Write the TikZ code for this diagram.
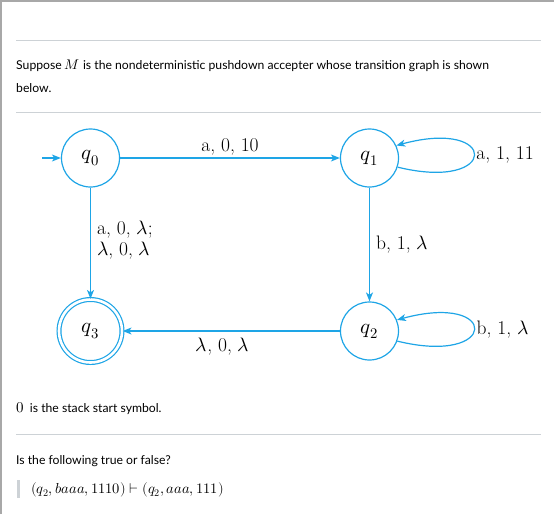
\documentclass[tikz,border=0pt]{standalone}
\usepackage{fontspec}
\usepackage{unicode-math}
\usepackage{xcolor}
\usepackage{tikz}
\usetikzlibrary{arrows.meta, positioning}

\setmathfont{Latin Modern Math}
\newfontfamily\latofont{Lato}
\definecolor{stateblue}{RGB}{30,165,230}
\definecolor{rulegray}{RGB}{205,210,214}
\definecolor{framegray}{RGB}{168,168,168}

\begin{document}
\begin{tikzpicture}[
  x=1pt, y=-1pt,
  state/.style = {draw=stateblue, circle, line width=1.2pt, minimum size=58pt,
                  inner sep=0pt, font=\fontsize{21}{24}\selectfont},
  accept/.style = {state, double=white, double distance=2.6pt, minimum size=63pt},
  arr/.style = {-{Stealth[length=9pt, width=7pt, inset=2.5pt]}, draw=stateblue, line width=1.2pt},
  lbl/.style = {font=\fontsize{19.5}{21}\selectfont, text=black, inner sep=2pt},
  txt/.style = {font=\latofont\fontsize{12.2}{23}\selectfont, inner sep=0pt, anchor=base west},
  hrule/.style = {rulegray, line width=1pt}
]
\useasboundingbox (0,0) rectangle (554,514);
% frame of the page
\draw[framegray, line width=2pt] (1,514) -- (1,1) -- (554,1);
\draw[hrule] (16,40) -- (541,40);
\draw[hrule] (16,112) -- (541,112);
\draw[hrule] (16,434) -- (541,434);

\node[txt] (intro) at (16,69) {Suppose {\fontsize{14}{16}\selectfont$M$} is the nondeterministic pushdown accepter whose transition graph is shown};
\node[txt] (intro2) at (16,92) {below.};

% the automaton
\node[state] (q0) at (90.5,158) {$q_0$};
\node[state] (q1) at (369.5,158) {$q_1$};
\node[state] (q2) at (369.5,331) {$q_2$};
\node[accept] (q3) at (90.5,331) {$q_3$};
\coordinate (start) at (42,158);

\draw[arr] (start) -- (q0);
\draw[arr] (q0) -- node[lbl, above] {a, 0, 10} (q1);
\draw[arr] (q0) -- node[lbl, right=4pt, align=left, yshift=3pt] {a, 0, $\lambda$;\\$\lambda$, 0, $\lambda$} (q3);
\draw[arr] (q1) -- node[lbl, right=4pt] {b, 1, $\lambda$} (q2);
\draw[arr] (q2) -- node[lbl, below=4pt, pos=0.54] {$\lambda$, 0, $\lambda$} (q3);
\draw[arr] (q1.-18) .. controls +(102,25) and +(103,-28) .. node[lbl, right] {a, 1, 11} (q1.25);
\draw[arr] (q2.-20) .. controls +(102,25) and +(103,-28) .. node[lbl, right] {b, 1, $\lambda$} (q2.22);

\node[txt] (startsym) at (16,412) {{\fontsize{15}{16}\selectfont$0$}\ \ is the stack start symbol.};
\node[txt] (question) at (16,464) {Is the following true or false?};
\fill[rulegray] (17,480) rectangle (20,498);
\node[txt, font=\fontsize{14.5}{16}\selectfont] (claim) at (31,493) {$(q_2, baaa, 1110) \vdash (q_2, aaa, 111)$};
\end{tikzpicture}
\end{document}
